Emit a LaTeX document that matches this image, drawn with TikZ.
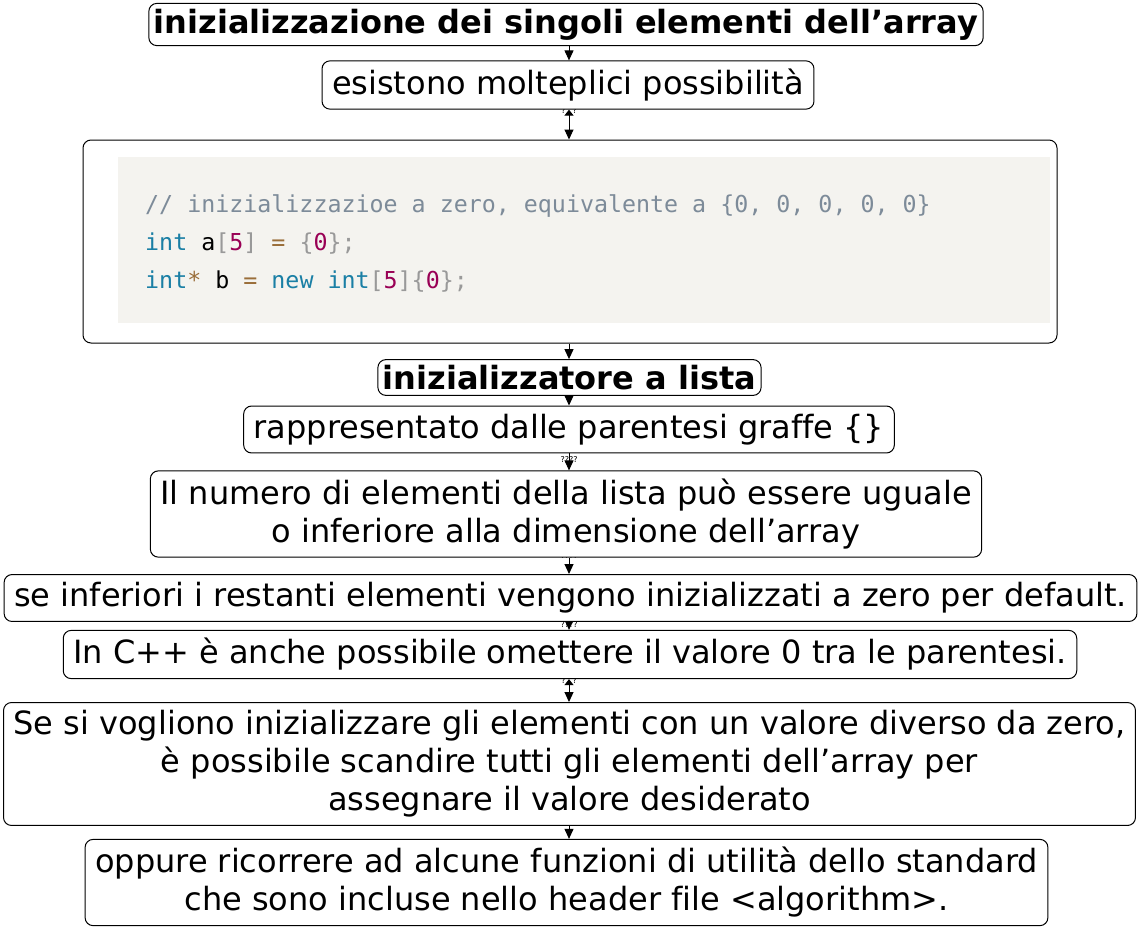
\documentclass[tikz,border=0pt]{standalone}
\usepackage{fontspec}
\setmainfont[Ligatures=NoCommon]{DejaVu Sans}
\setmonofont{DejaVu Sans Mono}
\usepackage{xcolor}
\usetikzlibrary{arrows.meta,backgrounds}

\definecolor{codebg}{HTML}{F4F3EF}
\definecolor{cmt}{HTML}{7D8B99}
\definecolor{kw}{HTML}{1A7FA5}
\definecolor{num}{HTML}{990055}
\definecolor{op}{HTML}{9A6E3A}
\definecolor{punc}{HTML}{999999}

\tikzset{
	box/.style={draw, line width=1pt, rounded corners=8pt, fill=white, align=center,
		inner xsep=10pt, inner ysep=8pt, font=\fontsize{32}{38}\selectfont},
	title/.style={box, inner xsep=5pt, inner ysep=5.5pt, font=\fontsize{32}{38}\selectfont\bfseries},
	codeline/.style={anchor=base west, inner sep=0pt, font=\fontsize{23.3}{28}\selectfont\ttfamily},
	link/.style={line width=1pt, -{Triangle[length=10pt,width=9pt]}},
	twolink/.style={line width=1pt, {Triangle[length=6pt,width=9pt]}-{Triangle[length=10pt,width=9pt]}},
	qq/.style={font=\fontsize{8}{8}\selectfont, inner sep=0pt}
}

\begin{document}
\begin{tikzpicture}[x=1pt,y=-1pt]
	\useasboundingbox (0,0) rectangle (1140,929);
	
	\node[title] (init) at (566,24.5) {inizializzazione dei singoli elementi dell’array};
	\node[box] (poss) at (568,85) {esistono molteplici possibilità};
	\node[box, minimum width=974pt, minimum height=203pt] (code) at (570,241.5) {};
	\fill[codebg] (118,157) rectangle (1050,323);
	\node[codeline] (c1) at (145,212) {\color{cmt}// inizializzazioe a zero, equivalente a \{0, 0, 0, 0, 0\}};
	\node[codeline] (c2) at (145,250.5) {\textcolor{kw}{int} a\textcolor{punc}{[}\textcolor{num}{5}\textcolor{punc}{]} \textcolor{op}{=} \textcolor{punc}{\{}\textcolor{num}{0}\textcolor{punc}{\};}};
	\node[codeline] (c3) at (145,288) {\textcolor{kw}{int}\textcolor{op}{*} b \textcolor{op}{=} \textcolor{kw}{new} \textcolor{kw}{int}\textcolor{punc}{[}\textcolor{num}{5}\textcolor{punc}{]\{}\textcolor{num}{0}\textcolor{punc}{\};}};
	\node[title] (lista) at (569.5,377.5) {inizializzatore a lista};
	\node[box] (graffe) at (569,429.5) {rappresentato dalle parentesi graffe \{\}};
	\node[box] (numero) at (566,514) {Il numero di elementi della lista può essere uguale\\o inferiore alla dimensione dell’array};
	\node[box] (zero) at (570.5,598) {se inferiori i restanti elementi vengono inizializzati a zero per default.};
	\node[box] (ometti) at (570,654.5) {In C++ è anche possibile omettere il valore 0 tra le parentesi.};
	\node[box] (diverso) at (569.5,764) {Se si vogliono inizializzare gli elementi con un valore diverso da zero,\\è possibile scandire tutti gli elementi dell’array per\\assegnare il valore desiderato};
	\node[box] (utilita) at (566.5,882.5) {oppure ricorrere ad alcune funzioni di utilità dello standard\\che sono incluse nello header file <algorithm>.};
	
	\begin{scope}[on background layer]
		\draw[link] (init.south -| 569,0) -- (poss.north -| 569,0);
		\draw[twolink] (poss.south -| 569,0) -- node[qq, pos=0, yshift=-1pt] {?\hspace{7pt}?} (code.north -| 569,0);
		\draw[link] (code.south -| 569,0) -- (lista.north -| 569,0);
		\draw[link] (lista.south -| 569,0) -- (graffe.north -| 569,0);
		\draw[link] (graffe.south -| 569,0) -- node[qq, pos=0, yshift=-6pt] {????} (numero.north -| 569,0);
		\draw[link] (numero.south -| 569,0) -- node[qq, pos=0, yshift=2pt] {????} (zero.north -| 569,0);
		\draw[link] (zero.south -| 569,0) -- node[qq, pos=0, yshift=-3pt] {????} (ometti.north -| 569,0);
		\draw[twolink] (ometti.south -| 569,0) -- node[qq, pos=0, yshift=-1pt] {?\hspace{7pt}?} (diverso.north -| 569,0);
		\draw[link] (diverso.south -| 569,0) -- (utilita.north -| 569,0);
	\end{scope}
\end{tikzpicture}
\end{document}
